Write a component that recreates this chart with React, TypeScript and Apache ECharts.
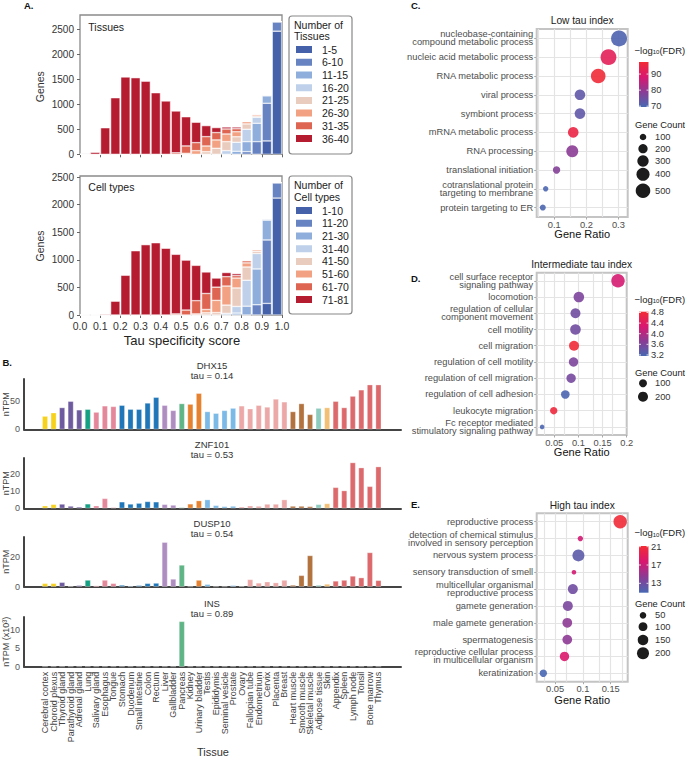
import React, { useEffect, useRef } from "react";
import * as echarts from "echarts";

const FONT = "'Liberation Sans', Arial, Helvetica, sans-serif";

/* ---------------- Panel A data ---------------- */
const tauBins = ["0.00-0.05", "0.05-0.10", "0.10-0.15", "0.15-0.20", "0.20-0.25", "0.25-0.30", "0.30-0.35", "0.35-0.40", "0.40-0.45", "0.45-0.50", "0.50-0.55", "0.55-0.60", "0.60-0.65", "0.65-0.70", "0.70-0.75", "0.75-0.80", "0.80-0.85", "0.85-0.90", "0.90-0.95", "0.95-1.00"];
const tauTicks = [0, 0.1, 0.2, 0.3, 0.4, 0.5, 0.6, 0.7, 0.8, 0.9, 1.0];
const geneTicks = [0, 500, 1000, 1500, 2000, 2500];

const tissueGroups = ["1-5", "6-10", "11-15", "16-20", "21-25", "26-30", "31-35", "36-40"];
const tis1to5 = [0, 0, 0, 0, 0, 0, 0, 0, 0, 0, 0, 0, 0, 0, 0, 0, 0, 0, 267, 2460];
const tis6to10 = [0, 0, 0, 0, 0, 0, 0, 0, 0, 0, 0, 0, 0, 0, 0, 0, 53, 253, 753, 190];
const tis11to15 = [0, 0, 0, 0, 0, 0, 0, 0, 0, 0, 0, 0, 0, 0, 0, 60, 200, 367, 147, 0];
const tis16to20 = [0, 0, 0, 0, 0, 0, 0, 0, 0, 0, 0, 0, 0, 0, 73, 180, 247, 120, 20, 0];
const tis21to25 = [0, 0, 0, 0, 0, 0, 0, 0, 0, 0, 0, 0, 53, 120, 180, 110, 107, 27, 0, 0];
const tis26to30 = [0, 0, 0, 0, 0, 0, 0, 0, 0, 0, 20, 73, 113, 167, 153, 100, 47, 33, 0, 0];
const tis31to35 = [0, 0, 0, 0, 0, 0, 0, 0, 0, 30, 147, 160, 187, 147, 100, 60, 0, 0, 0, 0];
const tis36to40 = [10, 40, 530, 1130, 1545, 1530, 1460, 1230, 1065, 835, 583, 407, 220, 100, 40, 35, 0, 0, 0, 0];

const cellGroups = ["1-10", "11-20", "21-30", "31-40", "41-50", "51-60", "61-70", "71-81"];
const cell1to10 = [0, 0, 0, 0, 0, 0, 0, 0, 0, 0, 0, 0, 0, 0, 0, 0, 0, 0, 210, 2120];
const cell11to20 = [0, 0, 0, 0, 0, 0, 0, 0, 0, 0, 0, 0, 0, 0, 0, 0, 0, 185, 1150, 280];
const cell21to30 = [0, 0, 0, 0, 0, 0, 0, 0, 0, 0, 0, 0, 0, 0, 0, 35, 160, 650, 360, 0];
const cell31to40 = [0, 0, 0, 0, 0, 0, 0, 0, 0, 0, 0, 0, 0, 0, 30, 120, 470, 280, 25, 0];
const cell41to50 = [0, 0, 0, 0, 0, 0, 0, 0, 0, 0, 0, 0, 40, 45, 150, 335, 240, 40, 0, 0];
const cell51to60 = [0, 0, 0, 0, 0, 0, 0, 0, 0, 0, 0, 20, 60, 220, 345, 180, 75, 30, 0, 0];
const cell61to70 = [0, 0, 0, 0, 0, 0, 0, 0, 0, 20, 90, 240, 290, 240, 170, 45, 40, 0, 0, 0];
const cell71to81 = [3, 5, 15, 250, 720, 1165, 1275, 1310, 1210, 1080, 905, 640, 390, 165, 75, 35, 0, 0, 0, 0];

const groupColors = ["#4461A9", "#6783C2", "#8FAEDC", "#BED0EA", "#EACCBE", "#F2A283", "#DE6551", "#B51C30"];

/* ---------------- Panel B data ---------------- */
const tissues = [
  "Cerebral cortex", "Choroid plexus", "Thyroid gland", "Parathyroid gland", "Adrenal gland", "Lung",
  "Salivary gland", "Esophagus", "Tongue", "Stomach", "Duodenum", "Small intestine", "Colon", "Rectum",
  "Liver", "Gallbladder", "Pancreas", "Kidney", "Urinary bladder", "Testis", "Epididymis", "Seminal vesicle",
  "Prostate", "Ovary", "Fallopian tube", "Endometrium", "Cervix", "Placenta", "Breast", "Heart muscle",
  "Smooth muscle", "Skeletal muscle", "Adipose tissue", "Skin", "Appendix", "Spleen", "Lymph node", "Tonsil",
  "Bone marrow", "Thymus",
];
const tissueColors = [
  "#F6D21C", "#F6D21C",
  "#6E5A9F", "#6E5A9F", "#6E5A9F",
  "#15A084",
  "#E5879A", "#E5879A", "#E5879A",
  "#1F77B9", "#1F77B9", "#1F77B9", "#1F77B9", "#1F77B9",
  "#AE8DC1", "#AE8DC1",
  "#5FB586",
  "#E6822F", "#E6822F",
  "#7BBAE6", "#7BBAE6", "#7BBAE6", "#7BBAE6",
  "#EBA8A7", "#EBA8A7", "#EBA8A7", "#EBA8A7", "#EBA8A7", "#EBA8A7",
  "#B3733F", "#B3733F", "#B3733F",
  "#8DCBBF",
  "#F3BF74",
  "#DC6A6C", "#DC6A6C", "#DC6A6C", "#DC6A6C", "#DC6A6C", "#DC6A6C",
];
const dhx15 = [23, 29, 38, 49, 34, 35, 30, 41, 40, 42, 35, 35, 46, 56, 42, 33, 45, 44, 63, 31, 28, 33, 37, 41, 36, 42, 39, 53, 48, 31, 45, 26, 37, 38, 49, 38, 58, 69, 78, 78];
const znf101 = [1.5, 2.3, 2.5, 1.3, 0.8, 2.6, 1.5, 5.8, 0.5, 3.8, 2.5, 3.0, 4.0, 3.8, 2.3, 1.9, 0.5, 2.6, 4.5, 5.1, 1.7, 1.1, 1.3, 0.9, 1.5, 1.3, 2.5, 2.5, 5.1, 1.3, 1.3, 1.1, 2.3, 2.8, 12.3, 10.4, 26.9, 23.9, 12.9, 24.5];
const dusp10 = [2.2, 2.2, 2.9, 0.2, 0.9, 4.4, 0.7, 4.4, 2.2, 1.1, 0.4, 0.9, 2.2, 2.4, 29.5, 5.1, 14.4, 0, 4.4, 1.6, 0, 0, 0.9, 0.3, 4.8, 2.5, 3.3, 2.7, 4.4, 1.1, 7.5, 20.7, 1.1, 1.8, 3.8, 4.4, 7.1, 6.0, 22.7, 4.2];
const ins = [0, 0, 0, 0, 0, 0, 0, 0, 0, 0, 0, 0, 0, 0, 0, 0, 12.3, 0, 0, 0, 0, 0, 0, 0, 0, 0, 0, 0, 0, 0, 0, 0, 0, 0, 0, 0, 0, 0, 0, 0];
const geneNames = ["DHX15", "ZNF101", "DUSP10", "INS"];
const geneTau = ["0.14", "0.53", "0.54", "0.89"];
const geneYTicks = [[0, 50], [0, 10, 20], [0, 20], [0, 5, 10]];
const geneYMax = [88, 29.6, 33, 13.5];
const geneYName = ["nTPM", "nTPM", "nTPM", "nTPM (x10³)"];

/* ---------------- Panels C/D/E data ---------------- */
const lowTerms = [
  "nucleobase-containing\ncompound metabolic process", "nucleic acid metabolic process", "RNA metabolic process",
  "viral process", "symbiont process", "mRNA metabolic process", "RNA processing", "translational initiation",
  "cotranslational protein\ntargeting to membrane", "protein targeting to ER",
];
const lowRatio = [0.302, 0.269, 0.237, 0.18, 0.18, 0.159, 0.156, 0.107, 0.073, 0.064];
const lowCount = [600, 590, 500, 262, 262, 262, 336, 126, 66, 82];
const lowFdr = [70.5, 92, 97, 73, 73, 95, 79, 78, 70, 70];

const midTerms = [
  "cell surface receptor\nsignaling pathway", "locomotion", "regulation of cellular\ncomponent movement",
  "cell motility", "cell migration", "regulation of cell motility", "regulation of cell migration",
  "regulation of cell adhesion", "leukocyte migration", "Fc receptor mediated\nstimulatory signaling pathway",
];
const midRatio = [0.182, 0.101, 0.094, 0.094, 0.091, 0.09, 0.085, 0.073, 0.049, 0.025];
const midCount = [449, 237, 200, 237, 200, 166, 166, 126, 77, 9];
const midFdr = [4.25, 3.6, 3.5, 3.5, 4.8, 3.6, 3.55, 3.2, 4.75, 3.2];

const highTerms = [
  "reproductive process", "detection of chemical stimulus\ninvolved in sensory perception", "nervous system process",
  "sensory transduction of smell", "multicellular organismal\nreproductive process", "gamete generation",
  "male gamete generation", "spermatogenesis", "reproductive cellular process\nin multicellular organism", "keratinization",
];
const highRatio = [0.167, 0.0955, 0.092, 0.084, 0.082, 0.073, 0.072, 0.072, 0.067, 0.029];
const highCount = [256, 30, 200, 20, 133, 133, 125, 125, 115, 66];
const highFdr = [21, 17.5, 12, 17.5, 13, 13.5, 14.5, 14.5, 18, 11];

const fdrColors = ["#4868B2", "#8A3C95", "#D91770", "#F22B35"];

/* ---------------- helpers ---------------- */
function txt(x: number, y: number, text: string, o: any = {}) {
  const align = o.align ?? "center";
  const va = o.va ?? "middle";
  const style: any = {
    text,
    fontFamily: FONT,
    fontSize: o.size ?? 10,
    fontWeight: o.weight ?? "normal",
    fill: o.color ?? "#333",
    align,
    verticalAlign: va,
    textAlign: align,
    textVerticalAlign: va,
  };
  if (o.lh) style.lineHeight = o.lh;
  if (o.rich) style.rich = o.rich;
  return { type: "text", x, y, rotation: o.rot ?? 0, silent: true, z: 100, style };
}

function buildOption() {
  const grid: any[] = [];
  const xAxis: any[] = [];
  const yAxis: any[] = [];
  const series: any[] = [];
  const legend: any[] = [];
  const visualMap: any[] = [];
  const g: any[] = [];

  /* ---------- Panel A ---------- */
  const aPanels = [
    { top: 15, height: 139.3, max: 2782.5, groups: tissueGroups, vals: [tis1to5, tis6to10, tis11to15, tis16to20, tis21to25, tis26to30, tis31to35, tis36to40], labels: false, legendTop: 44.1, box: [16, 138], title: ["Number of", "Tissues"], titleY: [24.5, 36], inner: "Tissues", innerY: 26.7, genesY: 86.7 },
    { top: 176, height: 139, max: 2520, groups: cellGroups, vals: [cell1to10, cell11to20, cell21to30, cell31to40, cell41to50, cell51to60, cell61to70, cell71to81], labels: true, legendTop: 205.1, box: [176, 138], title: ["Number of", "Cell types"], titleY: [185, 196.7], inner: "Cell types", innerY: 187.3, genesY: 246 },
  ];
  aPanels.forEach((p, pi) => {
    const gi = grid.length;
    grid.push({ left: 80, top: p.top, width: 202, height: p.height, show: true, borderColor: "#8a8a8a", borderWidth: 1.3, backgroundColor: "#fff", containLabel: false, outerBoundsMode: "none" });
    // hidden category axis that holds the histogram bins
    const catIdx = xAxis.length;
    xAxis.push({ gridIndex: gi, type: "category", position: "bottom", data: tauBins, show: false, boundaryGap: true });
    // visible value axis for the tau scale
    xAxis.push({
      gridIndex: gi, type: "value", position: "bottom", min: 0, max: 1,
      axisLine: { show: false },
      axisTick: { show: true, customValues: tauTicks, length: 3, lineStyle: { color: "#666", width: 1 } },
      axisLabel: { show: p.labels, customValues: tauTicks, formatter: (v: number) => v.toFixed(1), fontSize: 10.5, color: "#333", margin: 5, fontFamily: FONT, showMinLabel: true, showMaxLabel: true },
      splitLine: { show: false },
    });
    const yIdx = yAxis.length;
    yAxis.push({
      gridIndex: gi, type: "value", position: "left", min: 0, max: p.max,
      axisLine: { show: false },
      axisTick: { show: true, customValues: geneTicks, length: 3, lineStyle: { color: "#666", width: 1 } },
      axisLabel: { customValues: geneTicks, formatter: (v: number) => String(v), fontSize: 10, color: "#333", margin: 6, fontFamily: FONT, showMinLabel: true, showMaxLabel: true },
      splitLine: { show: false },
    });
    p.groups.forEach((name, k) => {
      series.push({
        type: "bar", name, xAxisIndex: catIdx, yAxisIndex: yIdx, stack: "A" + pi, barWidth: 9.4,
        data: p.vals[k],
        itemStyle: { color: groupColors[k], borderColor: "#fff", borderWidth: 0.5 },
        silent: true,
      });
    });
    legend.push({
      data: p.groups, orient: "vertical", left: 294, top: p.legendTop, itemWidth: 18, itemHeight: 9, itemGap: 1.7,
      padding: 0, selectedMode: false, icon: "rect",
      textStyle: { fontSize: 10.5, color: "#222", fontFamily: FONT, padding: [0, 0, 0, 4] },
    });
    g.push({ type: "rect", shape: { x: 289, y: p.box[0], width: 63, height: p.box[1], r: 3 }, style: { fill: "none", stroke: "#888", lineWidth: 1.2 }, silent: true, z: 50 });
    g.push(txt(294, p.titleY[0], p.title[0], { size: 10.5, align: "left", color: "#222" }));
    g.push(txt(294, p.titleY[1], p.title[1], { size: 10.5, align: "left", color: "#222" }));
    g.push(txt(88.3, p.innerY, p.inner, { size: 10.5, align: "left", color: "#222" }));
    g.push(txt(40, p.genesY, "Genes", { size: 10.5, rot: Math.PI / 2, color: "#333" }));
  });
  g.push(txt(182, 340, "Tau specificity score", { size: 13, color: "#222" }));

  /* ---------- Panel B ---------- */
  const bTops = [379, 458, 537, 617];
  const bBottoms = [429.3, 508.3, 586.7, 666.7];
  const bVals = [dhx15, znf101, dusp10, ins];
  bVals.forEach((vals, bi) => {
    const gi = grid.length;
    grid.push({ left: 24, top: bTops[bi], width: 377, height: bBottoms[bi] - bTops[bi], show: false, containLabel: false, outerBoundsMode: "none" });
    const xIdx = xAxis.length;
    xAxis.push({
      gridIndex: gi, type: "value", position: "bottom", min: -2.46, max: 41.64,
      axisLine: { show: true, onZero: false, lineStyle: { color: "#444", width: 2 } },
      axisTick: { show: false },
      axisLabel: { show: false },
      splitLine: { show: false },
    });
    const yIdx = yAxis.length;
    yAxis.push({
      gridIndex: gi, type: "value", position: "left", min: 0, max: geneYMax[bi],
      axisLine: { show: true, onZero: false, lineStyle: { color: "#444", width: 2 } },
      axisTick: { show: false },
      axisLabel: { show: true, customValues: geneYTicks[bi], formatter: (v: number) => String(v), fontSize: 9, color: "#555", margin: 4, fontFamily: FONT, showMinLabel: true, showMaxLabel: true },
      splitLine: { show: false },
    });
    series.push({
      type: "bar", xAxisIndex: xIdx, yAxisIndex: yIdx, barWidth: 5.6, silent: true,
      data: vals.map((v, i) => ({ value: [i, v], itemStyle: { color: tissueColors[i], borderColor: "rgba(255,255,255,0.6)", borderWidth: 0.5 } })),
    });
    g.push(txt(212, bTops[bi] - 9, geneNames[bi] + "\ntau = " + geneTau[bi], { size: 9.5, lh: 10, color: "#333" }));
    g.push(txt(5.5, (bTops[bi] + bBottoms[bi]) / 2, geneYName[bi], { size: 9, rot: Math.PI / 2, color: "#444" }));
  });
  // tissue names: a category axis whose bands line up with the bar positions above
  {
    const gi = grid.length;
    grid.push({ left: 40.725, top: bTops[3], width: 342, height: bBottoms[3] - bTops[3], show: false, containLabel: false, outerBoundsMode: "none" });
    xAxis.push({
      gridIndex: gi, type: "category", position: "bottom", data: tissues, boundaryGap: true,
      axisLine: { show: false }, axisTick: { show: false },
      axisLabel: { interval: 0, rotate: 90, fontSize: 9, color: "#444", margin: 5, fontFamily: FONT },
    });
    yAxis.push({ gridIndex: gi, type: "value", show: false });
  }
  g.push(txt(213, 752, "Tissue", { size: 11, color: "#333" }));

  /* ---------- Panels C / D / E ---------- */
  const enr = [
    {
      terms: lowTerms, ratio: lowRatio, count: lowCount, fdr: lowFdr,
      size: (n: number) => 2 * (0.064 + 0.3236 * Math.sqrt(n)),
      grid: { top: 29, height: 188, width: 91 }, xmin: 0.045, xmax: 0.329,
      xticks: [0.1, 0.2, 0.3], xgrid: [0.05, 0.1, 0.15, 0.2, 0.25, 0.3], fmt: (v: number) => String(v),
      title: "Low tau index", titleY: 20, nameY: 234,
      fdrRange: [69.5, 97.5], fdrTicks: [70, 80, 90], fdrFmt: (v: number) => String(v), fdrTitleY: 50, barTop: 62, barBottom: 107,
      countTitleY: 125, counts: [100, 200, 300, 400, 500], countY: [137, 148.7, 161, 174.3, 190.7],
    },
    {
      terms: midTerms, ratio: midRatio, count: midCount, fdr: midFdr,
      size: (n: number) => 2 * (1.585 + 0.2415 * Math.sqrt(n)),
      grid: { top: 272.7, height: 162.3, width: 90 }, xmin: 0.0138, xmax: 0.2,
      xticks: [0.05, 0.1, 0.15, 0.2], xgrid: [0.025, 0.05, 0.075, 0.1, 0.125, 0.15, 0.175], fmt: (v: number) => String(v),
      title: "Intermediate tau index", titleY: 264, nameY: 452,
      fdrRange: [3.16, 4.83], fdrTicks: [3.2, 3.6, 4.0, 4.4, 4.8], fdrFmt: (v: number) => v.toFixed(1), fdrTitleY: 299.3, barTop: 311.7, barBottom: 356,
      countTitleY: 372.7, counts: [100, 200], countY: [383.3, 396.7],
    },
    {
      terms: highTerms, ratio: highRatio, count: highCount, fdr: highFdr,
      size: (n: number) => 2 * (0.6 + 0.382 * Math.sqrt(n)),
      grid: { top: 513.3, height: 168.4, width: 91 }, xmin: 0.0171, xmax: 0.1805,
      xticks: [0.05, 0.1, 0.15], xgrid: [0.025, 0.05, 0.075, 0.1, 0.125, 0.15, 0.175], fmt: (v: number) => String(v),
      title: "High tau index", titleY: 505, nameY: 699.5,
      fdrRange: [10.95, 21.15], fdrTicks: [13, 17, 21], fdrFmt: (v: number) => String(v), fdrTitleY: 532.7, barTop: 546, barBottom: 592.7,
      countTitleY: 604, counts: [50, 100, 150, 200], countY: [615.3, 626.7, 640, 653.3],
    },
  ];
  enr.forEach((p) => {
    const gi = grid.length;
    const left = 536.7;
    grid.push({ left, top: p.grid.top, width: p.grid.width, height: p.grid.height, show: true, borderColor: "#c4c4c4", borderWidth: 2, backgroundColor: "#fff", containLabel: false, outerBoundsMode: "none" });
    const xIdx = xAxis.length;
    xAxis.push({
      gridIndex: gi, type: "value", position: "bottom", min: p.xmin, max: p.xmax,
      axisLine: { show: false },
      axisTick: { show: true, customValues: p.xticks, length: 2.5, lineStyle: { color: "#aaa", width: 1 } },
      axisLabel: { customValues: p.xticks, formatter: p.fmt, fontSize: 9.3, color: "#4d4d4d", margin: 3, fontFamily: FONT, showMinLabel: true, showMaxLabel: true },
      splitLine: { show: false },
    });
    const yIdx = yAxis.length;
    yAxis.push({
      gridIndex: gi, type: "category", position: "left", data: p.terms, inverse: true,
      axisLine: { show: false },
      axisTick: { show: true, alignWithLabel: true, length: 2.5, lineStyle: { color: "#aaa" } },
      axisLabel: { interval: 0, fontSize: 9.3, color: "#4d4d4d", margin: 3.5, lineHeight: 8, fontFamily: FONT },
      splitLine: { show: false },
    });
    // grid lines (drawn beneath the points)
    series.push({
      type: "scatter", xAxisIndex: xIdx, yAxisIndex: yIdx, data: [], silent: true, z: 1,
      markLine: {
        silent: true, z: 1, symbol: ["none", "none"], label: { show: false }, animation: false,
        lineStyle: { color: "#e4e4e4", width: 1.2, type: "solid" },
        emphasis: { disabled: true },
        data: [...p.xgrid.map((v) => ({ xAxis: v })), ...p.terms.map((_, i) => ({ yAxis: i }))],
      },
    });
    const si = series.length;
    series.push({
      type: "scatter", xAxisIndex: xIdx, yAxisIndex: yIdx, z: 6, silent: true,
      data: p.terms.map((_, i) => [p.ratio[i], i, p.fdr[i], p.count[i]]),
      symbolSize: (val: number[]) => p.size(val[3]),
      itemStyle: { opacity: 0.9 },
    });
    visualMap.push({ type: "continuous", show: false, seriesIndex: si, dimension: 2, min: p.fdrRange[0], max: p.fdrRange[1], inRange: { color: fdrColors } });

    const cx = (left + left + p.grid.width) / 2;
    g.push(txt(cx, p.titleY, p.title, { size: 10.2, color: "#222" }));
    g.push(txt(cx, p.nameY, "Gene Ratio", { size: 11, color: "#111" }));

    // colour bar legend
    g.push(txt(634.5, p.fdrTitleY, "−log{s|10}(FDR)", { size: 9.5, align: "left", color: "#222", rich: { s: { fontSize: 6, fontFamily: FONT, fill: "#222", padding: [4, 0, 0, 0] } } }));
    g.push({
      type: "rect", silent: true, z: 50,
      shape: { x: 639, y: p.barTop, width: 9.5, height: p.barBottom - p.barTop },
      style: {
        fill: {
          type: "linear", x: 0, y: 1, x2: 0, y2: 0,
          colorStops: fdrColors.map((c, k) => ({ offset: k / (fdrColors.length - 1), color: c })),
        },
      },
    });
    p.fdrTicks.forEach((t) => {
      const y = p.barBottom - ((t - p.fdrRange[0]) / (p.fdrRange[1] - p.fdrRange[0])) * (p.barBottom - p.barTop);
      g.push({ type: "line", silent: true, z: 51, shape: { x1: 639, y1: y, x2: 641, y2: y }, style: { stroke: "#fff", lineWidth: 0.8 } });
      g.push({ type: "line", silent: true, z: 51, shape: { x1: 646.5, y1: y, x2: 648.5, y2: y }, style: { stroke: "#fff", lineWidth: 0.8 } });
      g.push(txt(651, y, p.fdrFmt(t), { size: 9.3, align: "left", color: "#333" }));
    });
    // size legend
    g.push(txt(635, p.countTitleY, "Gene Count", { size: 9.3, align: "left", color: "#222" }));
    p.counts.forEach((c, k) => {
      g.push({ type: "circle", silent: true, z: 50, shape: { cx: 643, cy: p.countY[k], r: p.size(c) / 2 }, style: { fill: "#1c1c1c" } });
      g.push(txt(655, p.countY[k], String(c), { size: 9.3, align: "left", color: "#333" }));
    });
  });

  // panel letters
  g.push(txt(24, 5.5, "A.", { size: 9.5, weight: "bold", align: "left", color: "#111" }));
  g.push(txt(2.5, 362.5, "B.", { size: 9.5, weight: "bold", align: "left", color: "#111" }));
  g.push(txt(411, 5.5, "C.", { size: 9.5, weight: "bold", align: "left", color: "#111" }));
  g.push(txt(411, 278, "D.", { size: 9.5, weight: "bold", align: "left", color: "#111" }));
  g.push(txt(411, 504, "E.", { size: 9.5, weight: "bold", align: "left", color: "#111" }));

  return {
    animation: false,
    backgroundColor: "#fff",
    textStyle: { fontFamily: FONT },
    grid, xAxis, yAxis, series, legend, visualMap,
    graphic: { elements: g },
  };
}

export default function App() {
  const ref = useRef<HTMLDivElement>(null);
  useEffect(() => {
    if (!ref.current) return;
    const chart = echarts.init(ref.current, null, { renderer: "svg" });
    chart.setOption(buildOption() as any);
    return () => chart.dispose();
  }, []);
  return <div ref={ref} style={{ position: "absolute", left: 0, top: 0, width: 685, height: 757 }} />;
}
